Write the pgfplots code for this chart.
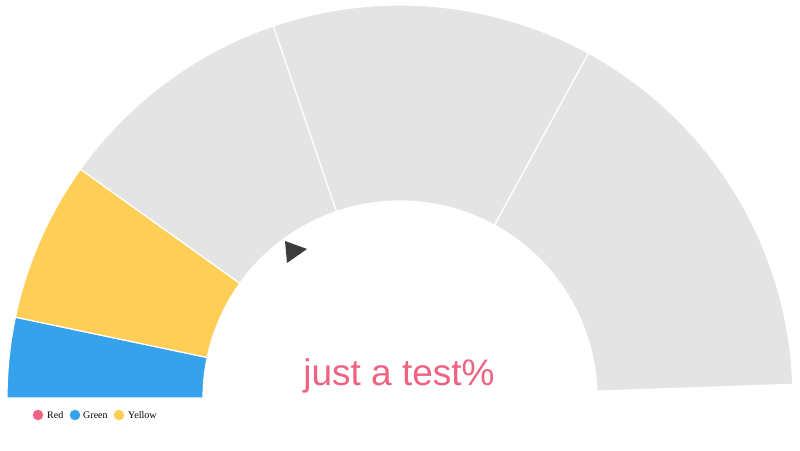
\documentclass[border=0pt]{standalone}
\usepackage{pgfplots}
\pgfplotsset{compat=1.18}
\usepackage{pgfplotstable}
\usepackage{fontspec}
\setmainfont{Liberation Serif}
\newfontfamily\sansf{Liberation Sans}
\definecolor{cblue}{RGB}{54,162,235}
\definecolor{cyellow}{RGB}{255,206,86}
\definecolor{cgrey}{RGB}{228,228,228}
\definecolor{cred}{RGB}{240,98,130}
\definecolor{cneedle}{RGB}{60,60,60}
% gauge segments: value of each segment, its colour
\pgfplotstableread{
value colour
1 cblue
2 cyellow
3 cgrey
4 cgrey
5 cgrey
}\gaugedata
\begin{document}
\begin{tikzpicture}
\begin{axis}[
  width=800pt, height=450pt, scale only axis,
  xmin=0, xmax=800, ymin=0, ymax=450,
  axis lines=none, ticks=none,
  clip=false,
]
\coordinate (ll) at (axis cs:0,0);
\coordinate (ur) at (axis cs:800,450);
\pgfplotsextra{
  \pgfplotstablegetrowsof{\gaugedata}
  \pgfmathtruncatemacro{\nrows}{\pgfplotsretval-1}
  \def\total{15}
  \def\span{178}
  \def\cum{0}
  \foreach \i in {0,...,\nrows}{
    \pgfplotstablegetelem{\i}{value}\of\gaugedata
    \let\v\pgfplotsretval
    \pgfplotstablegetelem{\i}{colour}\of\gaugedata
    \let\col\pgfplotsretval
    \pgfmathsetmacro{\a}{180-\span*\cum/\total}
    \pgfmathsetmacro{\b}{180-\span*(\cum+\v)/\total}
    \fill[\col, draw=white, line width=1.2pt]
      ([shift={(\a:393pt)}]axis cs:400,52) arc[start angle=\a, end angle=\b, radius=393pt]
      -- ([shift={(\b:197pt)}]axis cs:400,52) arc[start angle=\b, end angle=\a, radius=197pt]
      -- cycle;
    \pgfmathsetmacro{\newcum}{\cum+\v}
    \global\let\cum\newcum
  }
}
% needle
\addplot[fill=cneedle, draw=none] coordinates {(285,209) (287,187) (307,201)} -- cycle;
% centre text
\node[anchor=base, text=cred, font=\sansf\fontsize{37}{44}\selectfont] at (axis cs:399,65) {just a test\%};
% legend
\addplot[only marks, mark=*, mark size=5pt, mark options={fill=cred, draw=cred}] coordinates {(38,35)};
\addplot[only marks, mark=*, mark size=5pt, mark options={fill=cblue, draw=cblue}] coordinates {(75,35)};
\addplot[only marks, mark=*, mark size=5pt, mark options={fill=cyellow, draw=cyellow}] coordinates {(119,35)};
\node[anchor=west, font=\fontsize{10}{12}\selectfont, inner sep=0pt] at (axis cs:47,35) {Red};
\node[anchor=west, font=\fontsize{10}{12}\selectfont, inner sep=0pt] at (axis cs:83,35) {Green};
\node[anchor=west, font=\fontsize{10}{12}\selectfont, inner sep=0pt] at (axis cs:128,35) {Yellow};
\end{axis}
\pgfresetboundingbox
\path (ll) rectangle (ur);
\end{tikzpicture}
\end{document}
